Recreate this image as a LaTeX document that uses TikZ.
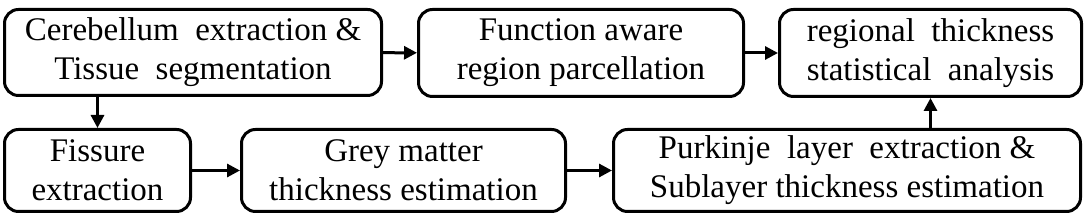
\documentclass[tikz,border=0pt]{standalone}
\usepackage{fontspec}
\setmainfont{Liberation Serif}
\usetikzlibrary{arrows.meta,positioning}
\tikzset{
    stagebox/.style={draw, line width=1.5pt, rounded corners=7pt, align=center,
        inner sep=0pt, font=\fontsize{16.5}{19.5}\selectfont},
    flow/.style={line width=1.5pt, -{Triangle[length=6.5pt,width=6.5pt]}}
}
\begin{document}
\begin{tikzpicture}[x=0.5pt, y=-0.5pt]
    \useasboundingbox (0,0) rectangle (1086,217);
    % top row
    \node[stagebox, minimum width=188.5pt, minimum height=43pt] (extract) at (193,52.5)
        {Cerebellum\ \ extraction \&\\Tissue\ \ segmentation};
    \node[stagebox, minimum width=162.5pt, minimum height=43.5pt] (parcel) at (581,53)
        {Function aware\\region parcellation};
    \node[stagebox, minimum width=151pt, minimum height=43.5pt] (stats) at (930.5,53)
        {regional\ \ thickness\\statistical\ \ analysis};
    % bottom row
    \node[stagebox, minimum width=93pt, minimum height=41pt] (fissure) at (97.5,170.5)
        {Fissure\\extraction};
    \node[stagebox, minimum width=162pt, minimum height=41pt] (grey) at (403.5,170.5)
        {Grey matter\\thickness estimation};
    \node[stagebox, minimum width=233.5pt, minimum height=41pt] (purkinje) at (847,170.5)
        {Purkinje\ \ layer\ \ extraction \&\\Sublayer thickness estimation};
    % connectors
    \draw[flow] (extract) -- (parcel);
    \draw[flow] (parcel) -- (stats);
    \draw[flow] (fissure.north |- extract.south) -- (fissure.north);
    \draw[flow] (fissure) -- (grey);
    \draw[flow] (grey) -- (purkinje);
    \draw[flow] (stats.south |- purkinje.north) -- (stats.south);
\end{tikzpicture}
\end{document}
